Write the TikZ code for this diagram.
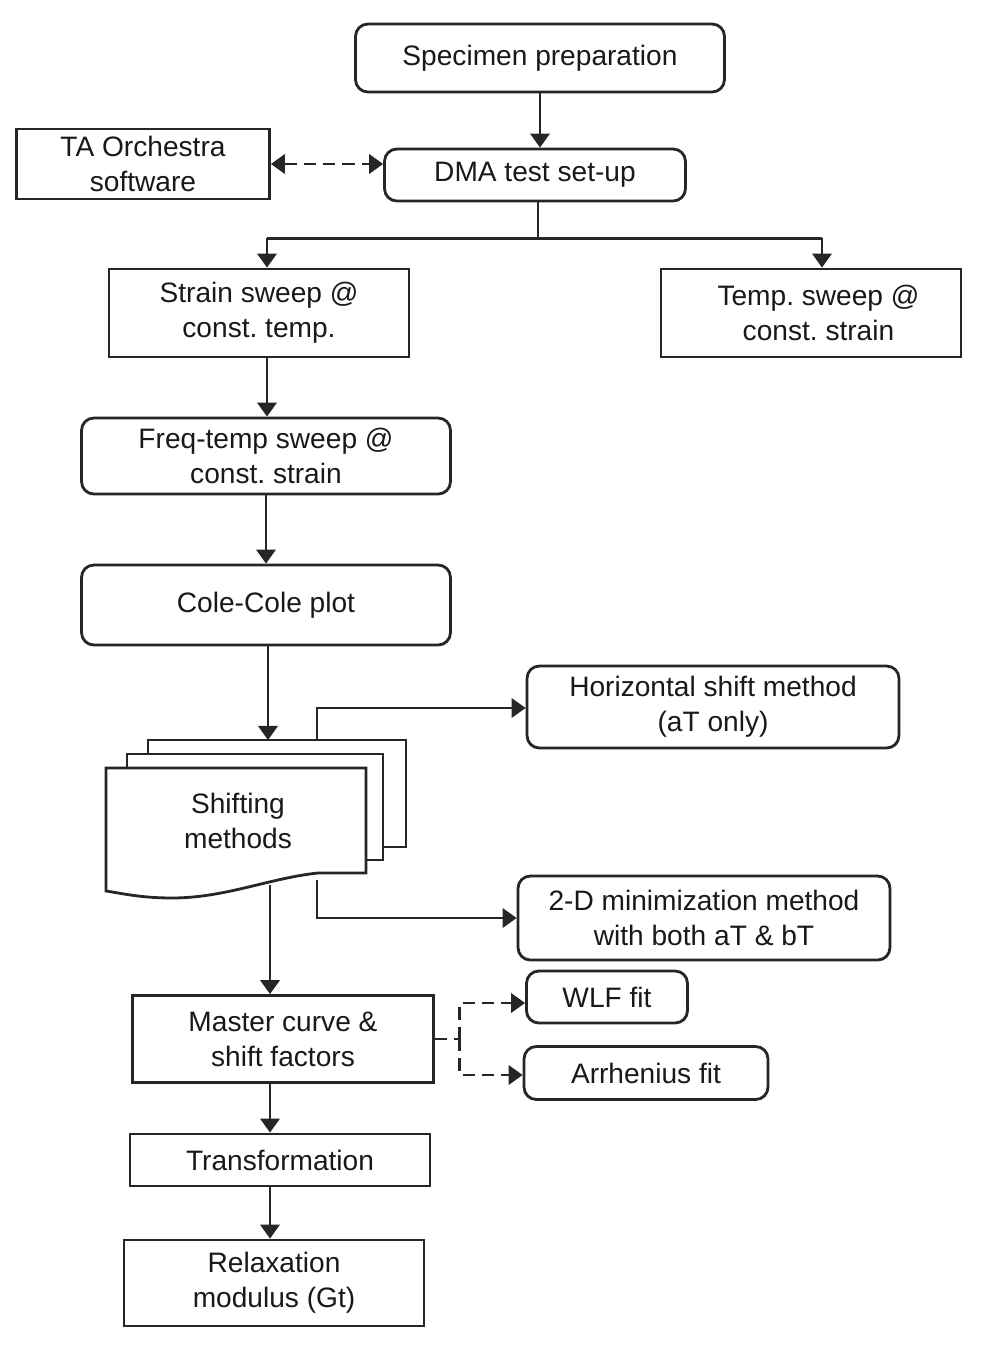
\documentclass[tikz,border=0pt]{standalone}
\usepackage{fontspec}
\setmainfont{Liberation Sans}
\usetikzlibrary{arrows.meta,positioning}
\frenchspacing

\begin{document}
\begin{tikzpicture}[x=0.02cm, y=-0.02cm,
    font=\fontsize{16}{20}\selectfont,
    every node/.style={align=center, text=black!90},
    line/.style={line width=1.6pt, draw=black!85},
    box/.style={line, draw, inner sep=0pt, fill=white},
    rbox/.style={box, rounded corners=7pt},
    arr/.style={line, -{Triangle[length=8pt,width=11pt]}},
    dasharr/.style={arr, dash pattern=on 7pt off 4pt}]
    \useasboundingbox (0,0) rectangle (985,1347);

    %Boxes
    \node[rbox, minimum width=7.38cm, minimum height=1.36cm] (prep) at (540,58) {Specimen preparation};
    \node[rbox, minimum width=6.02cm, minimum height=1.04cm] (dma) at (535,175) {DMA test set-up};
    \node[box, minimum width=5.06cm, minimum height=1.40cm] (ta) at (143,164) {TA Orchestra\\software};
    \node[box, minimum width=6.00cm, minimum height=1.76cm] (strain) at (259,313) {Strain sweep @\\const. temp.};
    \node[box, minimum width=6.00cm, minimum height=1.76cm] (temp) at (811,313) {\hspace{0.3cm}Temp. sweep @\\\hspace{0.3cm}const. strain};
    \node[rbox, minimum width=7.38cm, minimum height=1.52cm] (freq) at (266,456) {Freq-temp sweep @\\const. strain};
    \node[rbox, minimum width=7.38cm, minimum height=1.60cm] (cole) at (266,605) {Cole-Cole plot};
    \node[rbox, minimum width=7.44cm, minimum height=1.64cm] (horiz) at (713,707) {Horizontal shift method\\(aT only)};
    \node[rbox, minimum width=7.44cm, minimum height=1.68cm] (mini) at (704,918) {2-D minimization method\\with both aT \& bT};
    \node[box, minimum width=6.02cm, minimum height=1.74cm] (master) at (283,1039) {Master curve \&\\shift factors};
    \node[rbox, minimum width=3.22cm, minimum height=1.04cm] (wlf) at (607,997) {WLF fit};
    \node[rbox, minimum width=4.88cm, minimum height=1.06cm] (arrh) at (646,1073) {Arrhenius fit};
    \node[box, minimum width=6.00cm, minimum height=1.04cm] (trans) at (280,1160) {Transformation};
    \node[box, minimum width=6.00cm, minimum height=1.72cm] (relax) at (274,1283) {Relaxation\\modulus (Gt)};

    %Shifting methods (stacked documents)
    \draw[line, fill=white] (148,740) rectangle (406,847);
    \draw[line, fill=white] (127,754) rectangle (383,860);
    \draw[line, fill=white] (106,768) -- (366,768) -- (366,873) -- (318,873)
        .. controls (270,878) and (225,898) .. (172,898)
        .. controls (140,898) and (120,893) .. (106,891) -- cycle;
    \node (shift) at (238,821) {Shifting\\methods};
    \coordinate (stacktop) at (268,740);
    \coordinate (stackbot) at (270,885);
    \coordinate (brA) at (317,740);
    \coordinate (brB) at (317,880);

    %Connectors
    \draw[arr] (prep.south) -- (prep.south |- dma.north);
    \draw[dasharr, {Triangle[length=8pt,width=11pt]}-{Triangle[length=8pt,width=11pt]}] (ta.east) -- (ta.east -| dma.west);
    \draw[line] ([xshift=0.06cm]dma.south) -- ++(0,36) coordinate (fork);
    \draw[line] ([xshift=0.16cm]strain.north |- fork) -- ([xshift=0.22cm]temp.north |- fork);
    \draw[arr] ([xshift=0.16cm]strain.north |- fork) -- ([xshift=0.16cm]strain.north);
    \draw[arr] ([xshift=0.22cm]temp.north |- fork) -- ([xshift=0.22cm]temp.north);
    \draw[arr] ([xshift=0.16cm]strain.south) -- ([xshift=0.16cm]strain.south |- freq.north);
    \draw[arr] (freq.south) -- (cole.north);
    \draw[arr] (cole.south -| stacktop) -- (stacktop);
    \draw[arr] (brA) -- ++(0,-32) -- (horiz.west |- 0,708);
    \draw[arr] (brB) |- (mini.west);
    \draw[arr] (stackbot) -- (stackbot |- master.north);
    \draw[line, dash pattern=on 7pt off 4pt] (master.east) -- ++(25,0) coordinate (dfork);
    \draw[dasharr] (dfork) |- (wlf.west |- 0,1003);
    \draw[dasharr] (dfork) |- (arrh.west |- 0,1075);
    \draw[arr] (stackbot |- master.south) -- (stackbot |- trans.north);
    \draw[arr] (stackbot |- trans.south) -- (stackbot |- relax.north);
\end{tikzpicture}
\end{document}
